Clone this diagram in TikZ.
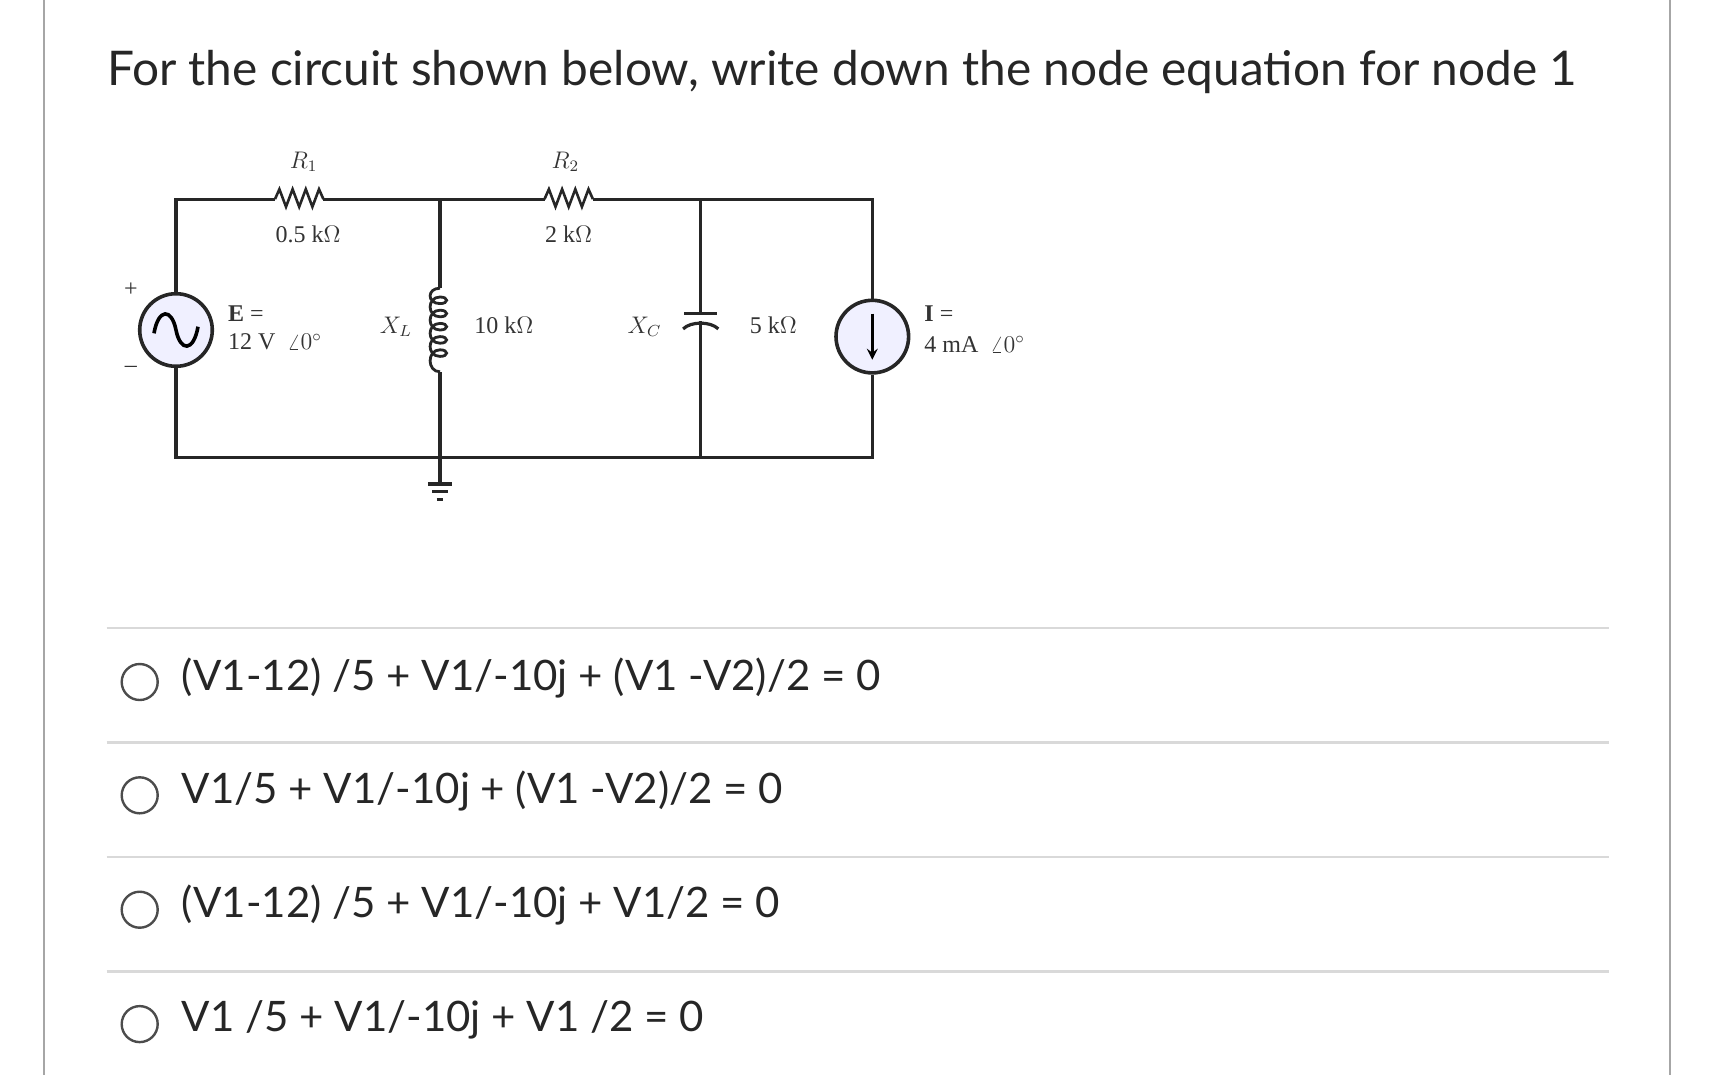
\documentclass[tikz,border=0pt]{standalone}
\usepackage{fontspec}
\setmainfont{Lato}
\newfontfamily\ckt{Liberation Serif}
\begin{document}
\begin{tikzpicture}[x=0.55pt,y=-0.55pt,
  w/.style={line width=1.6pt,black!85},
  src/.style={circle,draw=black!85,line width=1.8pt,fill=blue!6,minimum size=36.3pt,inner sep=0pt},
  lab/.style={font=\ckt\fontsize{12}{12}\selectfont,text=black!80,inner sep=0pt},
  opt/.style={font=\fontsize{21}{21}\selectfont,anchor=west,text=black!85,inner sep=0pt},
  rad/.style={circle,draw=black!70,line width=1.2pt,minimum size=18pt,inner sep=0pt},
  div/.style={draw=black!15,line width=1.2pt}]
\useasboundingbox (0,0) rectangle (1560.9,977.3);
\draw[black!35,line width=1.2pt] (40,0) -- (40,977.3) (1518,0) -- (1518,977.3);
\node[font=\fontsize{23.9}{24}\selectfont,anchor=base west,inner sep=0pt,text=black!85] (title) at (97,78) {For the circuit shown below, write down the node equation for node 1};
% nodes
\coordinate (tl) at (160,181); \coordinate (bl) at (160,416);
\coordinate (n1) at (400,181); \coordinate (g) at (400,416);
\coordinate (n2) at (637,181); \coordinate (c2) at (637,416);
\coordinate (tr) at (793,181); \coordinate (br) at (793,416);
\node[src] (E) at (160,300) {};
\node[src] (I) at (793,306) {};
% source glyphs
\draw[line width=1.8pt] (140,303) .. controls (144,280) and (156,280) .. (160,300) .. controls (164,320) and (176,320) .. (180,297);
\draw[line width=1.4pt,-stealth] (793,285) -- (793,327);
% wires
\draw[w] (E) -- (tl) -- (250,181);
\draw[w] (294,181) -- (495,181);
\draw[w] (539,181) -- (tr) -- (I);
\draw[w] (E) -- (bl) -- (br) -- (I);
% resistors
\draw[w,line width=1.3pt] (250,181) -- (254,172) -- (260,188) -- (266,172) -- (272,188) -- (278,172) -- (284,188) -- (290,172) -- (294,181);
\draw[w,line width=1.3pt] (495,181) -- (499,172) -- (505,188) -- (511,172) -- (517,188) -- (523,172) -- (529,188) -- (535,172) -- (539,181);
% inductor
\draw[w] (n1) -- (400,262);
\draw[w] (400,338) -- (g);
\draw[w,line width=1.4pt] (400,262) .. controls (388,262) and (388,276) .. (400,276)
  .. controls (408,276) and (408,270) .. (400,270) .. controls (388,270) and (388,288) .. (400,288)
  .. controls (408,288) and (408,282) .. (400,282) .. controls (388,282) and (388,300) .. (400,300)
  .. controls (408,300) and (408,294) .. (400,294) .. controls (388,294) and (388,312) .. (400,312)
  .. controls (408,312) and (408,306) .. (400,306) .. controls (388,306) and (388,324) .. (400,324)
  .. controls (408,324) and (408,318) .. (400,318) .. controls (388,318) and (388,338) .. (400,338);
% capacitor
\draw[w] (n2) -- (637,285);
\draw[w] (637,292) -- (c2);
\draw[w] (622,285) -- (652,285);
\draw[w] (621,299) .. controls (628,292) and (646,292) .. (653,299);
% ground
\draw[w] (g) -- (400,438);
\draw[w] (389,440) -- (411,440) (393,447) -- (407,447) (397,454) -- (403,454);
% labels
\node[lab] (lR1) at (276,147) {$R_1$};
\node[lab] (vR1) at (280,213) {0.5 k$\Omega$};
\node[lab] (lR2) at (514,147) {$R_2$};
\node[lab] (vR2) at (517,213) {2 k$\Omega$};
\node[lab] (plus) at (119,263) {+};
\node[lab] (minus) at (119,336) {\textendash};
\node[lab,anchor=west] (E1) at (207,285) {\textbf{E} =};
\node[lab,anchor=west] (E2) at (207,311) {12 V \ $\angle 0^\circ$};
\node[lab] (XL) at (360,297) {$X_L$};
\node[lab] (vL) at (458,296) {10 k$\Omega$};
\node[lab] (XC) at (586,297) {$X_C$};
\node[lab] (vC) at (703,296) {5 k$\Omega$};
\node[lab,anchor=west] (I1) at (840,285) {\textbf{I} =};
\node[lab,anchor=west] (I2) at (840,313) {4 mA \ $\angle 0^\circ$};
% dividers
\draw[div] (97,571) -- (1463,571) (97,675) -- (1463,675) (97,779) -- (1463,779) (97,883) -- (1463,883);
% options
\node[rad] (r1) at (127,620) {}; \node[opt] (o1) at (165,616) {(V1-12) /5 + V1/-10j + (V1 -V2)/2 = 0};
\node[rad] (r2) at (127,723) {}; \node[opt] (o2) at (165,719) {V1/5 + V1/-10j + (V1 -V2)/2 = 0};
\node[rad] (r3) at (127,827) {}; \node[opt] (o3) at (165,823) {(V1-12) /5 + V1/-10j + V1/2 = 0};
\node[rad] (r4) at (127,931) {}; \node[opt] (o4) at (165,927) {V1 /5 + V1/-10j + V1 /2 = 0};
\end{tikzpicture}
\end{document}
